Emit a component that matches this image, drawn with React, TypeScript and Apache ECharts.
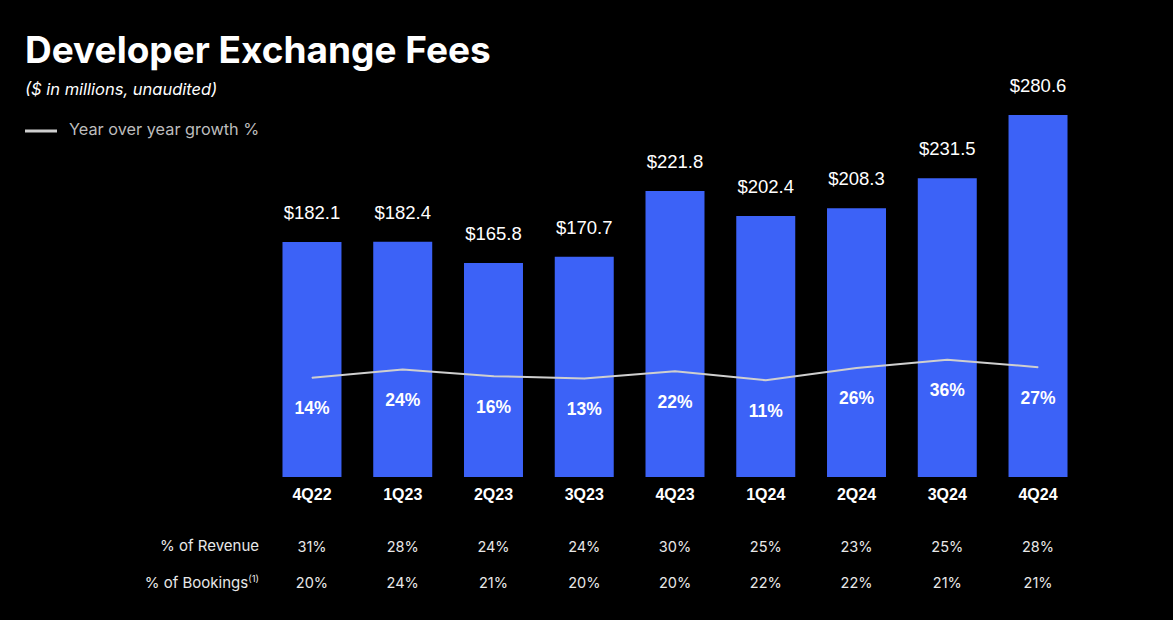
import React, { useEffect, useRef } from "react";
import * as echarts from "echarts";

const categories = ["4Q22", "1Q23", "2Q23", "3Q23", "4Q23", "1Q24", "2Q24", "3Q24", "4Q24"];
const fees = [182.1, 182.4, 165.8, 170.7, 221.8, 202.4, 208.3, 231.5, 280.6];
const growth = [14, 24, 16, 13, 22, 11, 26, 36, 27];
const pctRevenue = ["31%", "28%", "24%", "24%", "30%", "25%", "23%", "25%", "28%"];
const pctBookings = ["20%", "24%", "21%", "20%", "20%", "22%", "22%", "21%", "21%"];

const BAR = "#3C62F7";
const LINE = "#cfcfcf";
const SANS = "'Liberation Sans', Arial, sans-serif";
const INTER = "Inter, 'Noto Sans', sans-serif";

export default function App() {
  const ref = useRef<HTMLDivElement>(null);
  useEffect(() => {
    document.body.style.margin = "0";
    document.body.style.background = "#000";
    const chart = echarts.init(ref.current!, null, { renderer: "svg" });
    const rowAxis = (data: string[], offset: number) => ({
      type: "category",
      data,
      position: "bottom",
      offset,
      gridIndex: 0,
      axisLine: { show: false },
      axisTick: { show: false },
      axisLabel: { color: "#e8e8e8", fontSize: 14.5, fontFamily: INTER, margin: 8 },
    });
    chart.setOption({
      animation: false,
      backgroundColor: "#000",
      grid: { left: 266.6, right: 89.6, top: 90, bottom: 143 },
      xAxis: [
        {
          type: "category",
          data: categories,
          axisLine: { show: false },
          axisTick: { show: false },
          axisLabel: { color: "#ffffff", fontSize: 16, fontWeight: "bold", fontFamily: SANS, margin: 9 },
        },
        rowAxis(pctRevenue, 54),
        rowAxis(pctBookings, 90),
      ],
      yAxis: [
        { type: "value", min: 0, max: 300, show: false, splitLine: { show: false } },
        { type: "value", min: -107, max: 365, show: false, splitLine: { show: false } },
      ],
      series: [
        {
          type: "bar",
          data: fees,
          barWidth: "65%",
          itemStyle: { color: BAR },
          label: {
            show: true,
            position: "top",
            distance: 20,
            color: "#ffffff",
            fontSize: 18.5,
            fontWeight: 500,
            fontFamily: SANS,
            formatter: (p: any) => "$" + p.value.toFixed(1),
          },
        },
        {
          type: "line",
          yAxisIndex: 1,
          data: growth,
          symbol: "circle",
          symbolSize: 1,
          lineStyle: { color: LINE, width: 2 },
          itemStyle: { color: LINE },
          label: {
            show: true,
            position: "bottom",
            distance: 21,
            color: "#ffffff",
            fontSize: 17.5,
            fontWeight: "bold",
            fontFamily: SANS,
            formatter: (p: any) => p.value + "%",
          },
        },
      ],
      graphic: [
        {
          type: "text",
          left: 25,
          top: 31,
          style: { text: "Developer Exchange Fees", fill: "#ffffff", font: `bold 37px ${INTER}` },
        },
        {
          type: "text",
          left: 25,
          top: 80,
          style: { text: "($ in millions, unaudited)", fill: "#ffffff", font: `italic 16.5px ${INTER}` },
        },
        {
          type: "line",
          shape: { x1: 25, y1: 131, x2: 57, y2: 131 },
          style: { stroke: LINE, lineWidth: 3 },
        },
        {
          type: "text",
          left: 69,
          top: 121,
          style: { text: "Year over year growth %", fill: "#bdbdbd", font: `16.3px ${INTER}` },
        },
        {
          type: "text",
          right: 1173 - 259,
          top: 538,
          style: { text: "% of Revenue", fill: "#e8e8e8", font: `15px ${INTER}` },
        },
        {
          type: "text",
          right: 1173 - 259,
          top: 573,
          style: {
            text: "% of Bookings{sup|(1)}",
            fill: "#e8e8e8",
            font: `15px ${INTER}`,
            rich: { sup: { fontSize: 9.5, fill: "#e8e8e8", fontFamily: INTER, verticalAlign: "top", padding: [0, 0, 8, 0] } },
          },
        },
      ],
    });
    return () => chart.dispose();
  }, []);
  return <div ref={ref} style={{ width: 1173, height: 620 }} />;
}
